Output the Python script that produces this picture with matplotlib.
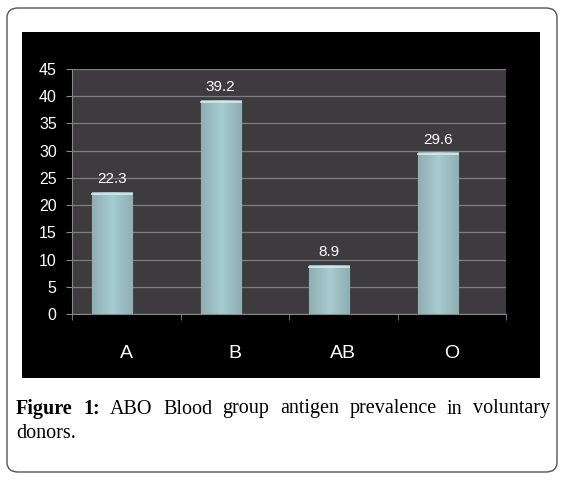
import matplotlib
matplotlib.use("Agg")
import matplotlib.pyplot as plt
from matplotlib.patches import FancyBboxPatch, Rectangle
import numpy as np

# data
groups = ["A", "B", "AB", "O"]
prevalence = [22.3, 39.2, 8.9, 29.6]
yticks = [0, 5, 10, 15, 20, 25, 30, 35, 40, 45]
caption_bold = ["Figure", "1:"]
caption_words = ["ABO", "Blood", "group", "antigen", "prevalence", "in", "voluntary"]
caption_line2 = "donors."

W, H = 563, 480
fig = plt.figure(figsize=(W / 100, H / 100), dpi=100)

# outer rounded frame
frame = FancyBboxPatch((7 / W, 8 / H), 550 / W, 464 / H,
                       boxstyle="round,pad=0,rounding_size=0.02",
                       transform=fig.transFigure, fc="white", ec="#555555", lw=1.0, zorder=-3)
fig.patches.append(frame)

# black chart panel
panel = Rectangle((22 / W, 1 - 378 / H), 518 / W, 346 / H,
                  transform=fig.transFigure, fc="black", ec="none", zorder=-2)
fig.patches.append(panel)

ax = fig.add_axes([72 / W, 1 - 314 / H, 434 / W, 245 / H])
ax.set_facecolor("#3d3b3d")
x = np.arange(len(groups))
# the bars sit a little left of the category centre, as in the original
bx = x - 0.13
bars = ax.bar(bx, prevalence, width=0.37, color="#a3c4c8", edgecolor="#d8eef0", linewidth=0.8, zorder=3)

# soft horizontal shading on each bar
grad = np.linspace(0, 1, 50)
shade = 1 - np.abs(grad - 0.5) * 2
for b in bars:
    x0, w, h = b.get_x(), b.get_width(), b.get_height()
    img = np.ones((1, 50, 3)) * np.array([0.64, 0.78, 0.80])
    img = img * (0.88 + 0.14 * shade[None, :, None])
    ax.imshow(np.clip(img, 0, 1), extent=[x0, x0 + w, 0, h], aspect="auto", zorder=4)
    ax.plot([x0, x0 + w], [h - 0.25, h - 0.25], color="#d6ecee", lw=1.2, zorder=5)
    ax.text(x0 + w / 2, h + 1.7, f"{h:g}", ha="center", va="baseline", color="white",
            fontsize=11, family="Liberation Sans", zorder=5)

ax.set_xlim(-0.5, len(groups) - 0.5)
ax.set_ylim(0, 45)
ax.set_yticks(yticks)
ax.set_yticklabels([str(t) for t in yticks], color="white", fontsize=11.5, family="Liberation Sans")
ax.set_xticks(x)
ax.set_xticklabels(groups, color="white", fontsize=14, family="Liberation Sans")
ax.set_xticks(np.arange(len(groups) + 1) - 0.5, minor=True)
ax.tick_params(axis="x", which="major", length=0, pad=22)
ax.tick_params(axis="x", which="minor", length=4, color="#888888")
ax.tick_params(axis="y", length=4, color="#888888", pad=7)
ax.grid(axis="y", color="#7e7e7e", lw=0.9, zorder=1)
ax.set_axisbelow(True)
for s in ["top", "right"]:
    ax.spines[s].set_visible(False)
ax.spines["left"].set_color("#888888")
ax.spines["bottom"].set_color("#888888")

# justified caption, first line
fig.canvas.draw()
r = fig.canvas.get_renderer()
x_left, x_right = 16, 550
y1 = 1 - 409 / H
fs = 14.5
items = []
for w in caption_bold:
    items.append(fig.text(0, y1, w, fontsize=fs, family="Liberation Serif", weight="bold", va="center"))
for w in caption_words:
    items.append(fig.text(0, y1, w, fontsize=fs, family="Liberation Serif", va="center"))
widths = [t.get_window_extent(r).width for t in items]
gap = (x_right - x_left - sum(widths)) / (len(items) - 1)
pos = x_left
for t, wd in zip(items, widths):
    t.set_x(pos / W)
    pos += wd + gap
fig.text(x_left / W, 1 - 434 / H, caption_line2, fontsize=fs, family="Liberation Serif", va="center")

fig.savefig("out.png", dpi=100)
